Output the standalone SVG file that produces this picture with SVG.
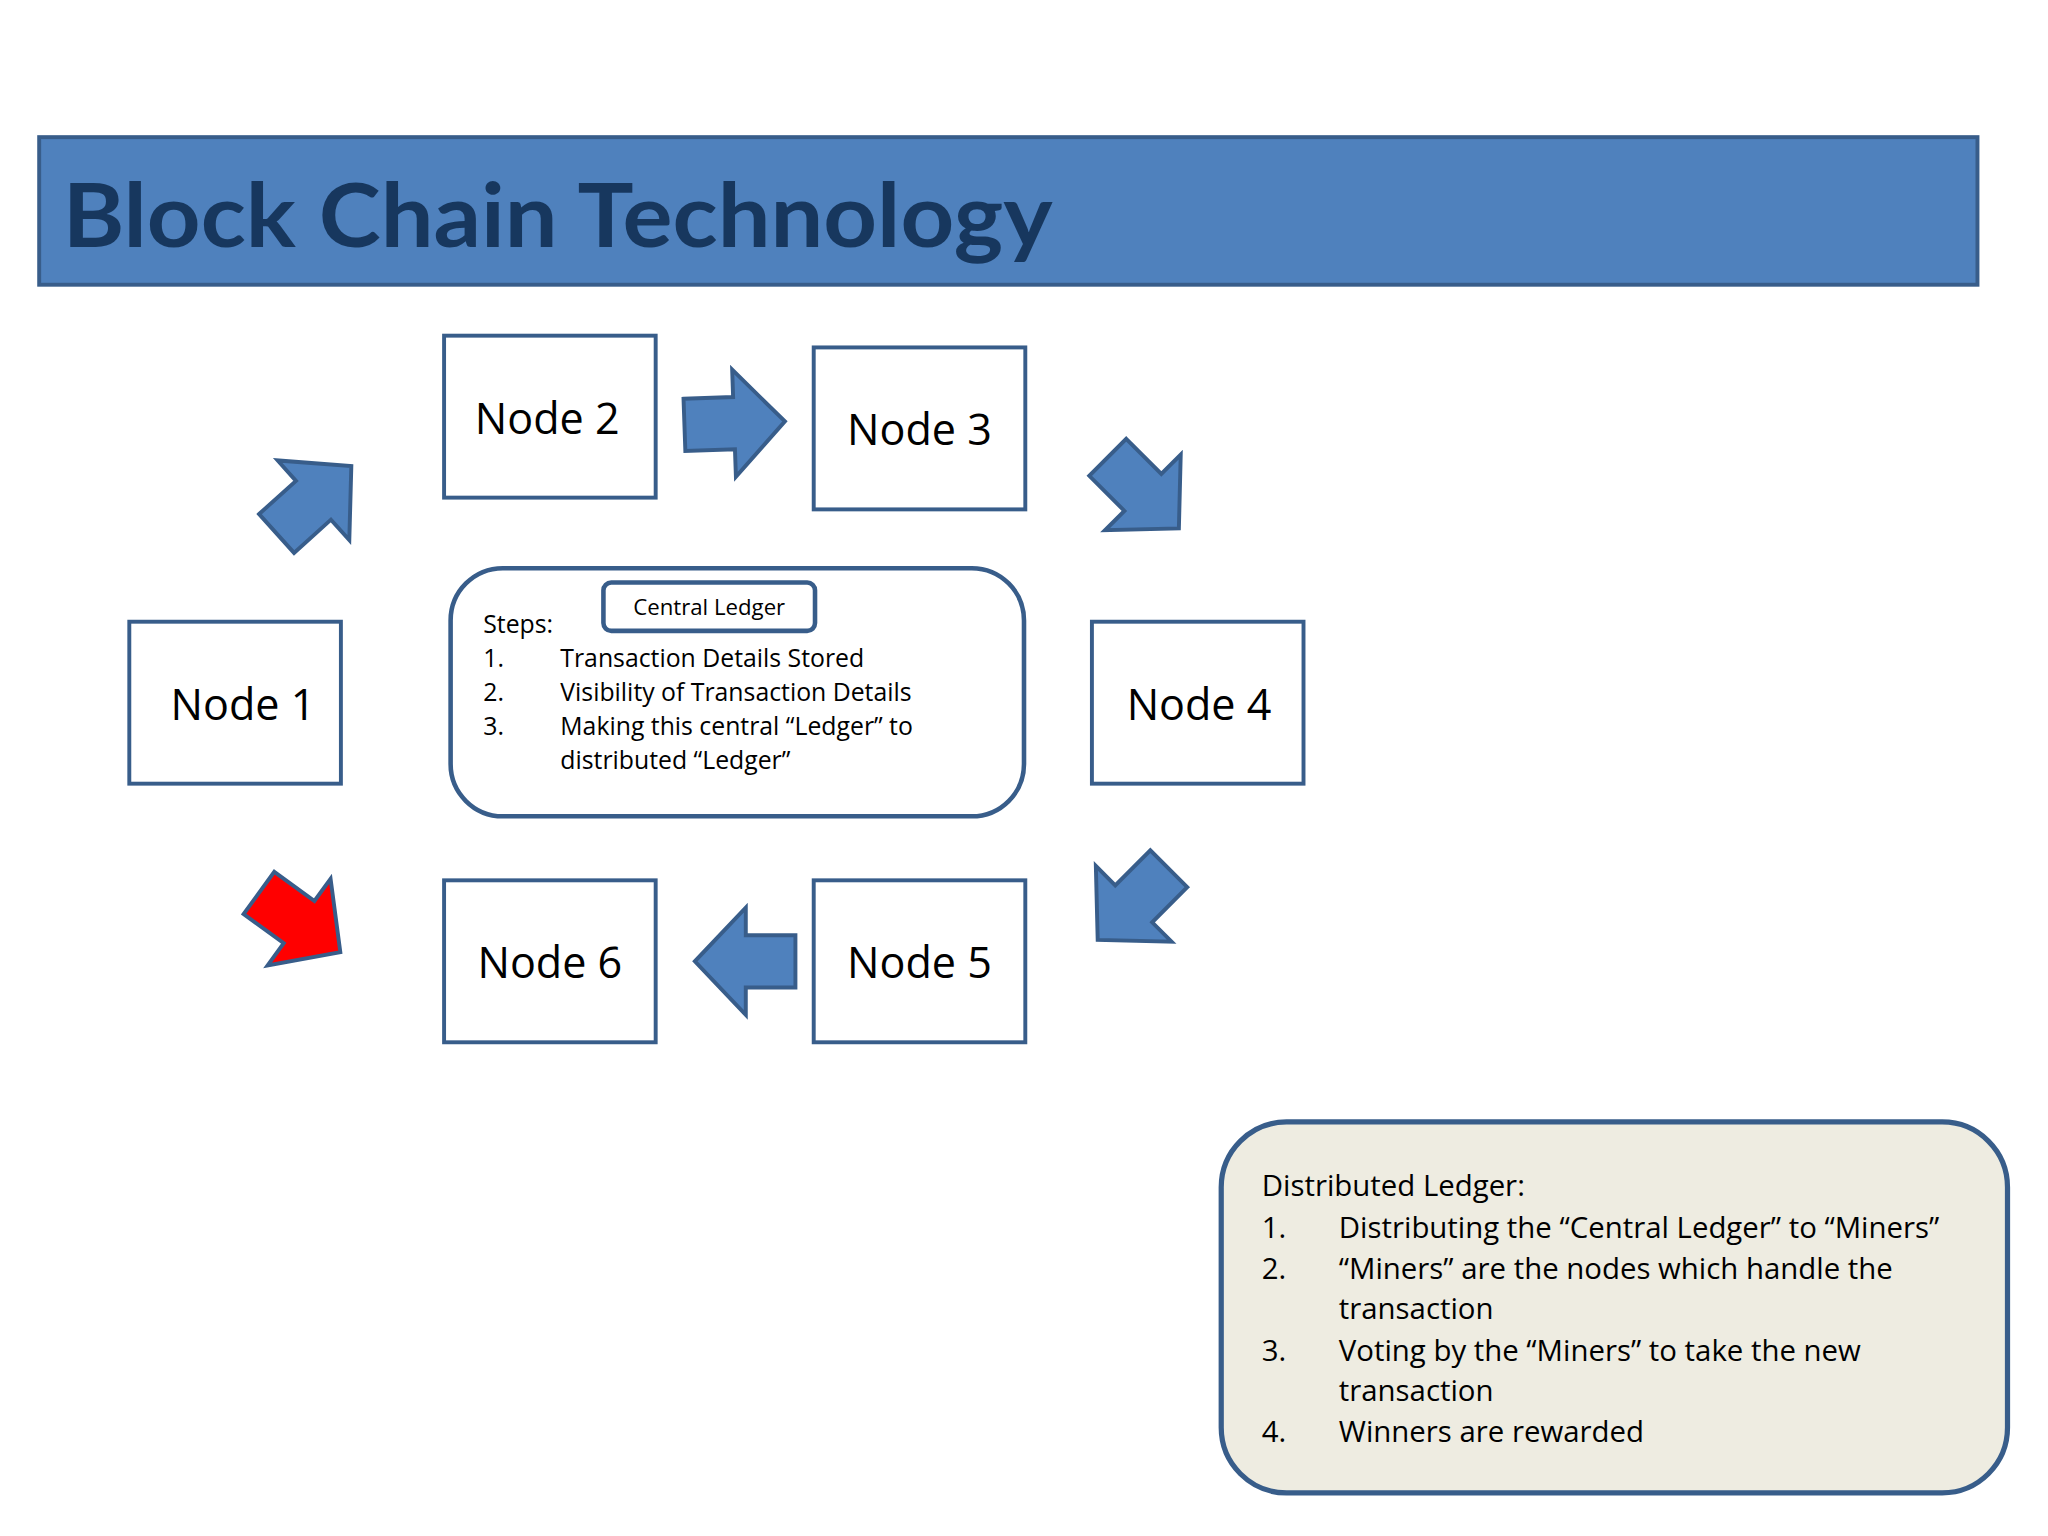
<svg xmlns="http://www.w3.org/2000/svg" width="2048" height="1536" viewBox="0 0 2048 1536">
<style>
.node rect{fill:#fff;stroke:#385D8A;stroke-width:3}
.node text{font-family:"Open Sans","Noto Sans",sans-serif;font-size:33px;fill:#000;text-anchor:middle}
.arr{fill:#4F81BD;stroke:#385D8A;stroke-width:3;stroke-linejoin:miter}
.t{font-family:"Open Sans","Noto Sans",sans-serif;fill:#000}
</style>
<defs>
<polygon id="ba" points="-38,-20 0,-20 0,-41 39,0 0,41 0,20 -38,20"/>
</defs>
<rect width="2048" height="1536" fill="#fff"/>
<g transform="scale(1.30612)">
<g id="title">
<rect x="30" y="105" width="1484" height="113" fill="#4F81BD" stroke="#385D8A" stroke-width="3"/>
<text x="48" y="189" font-family="Lato,'Open Sans',sans-serif" font-weight="bold" font-size="68" fill="#17375E" textLength="758" lengthAdjust="spacingAndGlyphs">Block Chain Technology</text>
</g>
<g id="node1" class="node"><rect x="99" y="476" width="162" height="124"/><text x="186" y="551">Node 1</text></g>
<g id="node2" class="node"><rect x="340" y="257" width="162" height="124"/><text x="419" y="332">Node 2</text></g>
<g id="node3" class="node"><rect x="623" y="266" width="162" height="124"/><text x="704" y="341">Node 3</text></g>
<g id="node4" class="node"><rect x="836" y="476" width="162" height="124"/><text x="918" y="551">Node 4</text></g>
<g id="node5" class="node"><rect x="623" y="674" width="162" height="124"/><text x="704" y="749">Node 5</text></g>
<g id="node6" class="node"><rect x="340" y="674" width="162" height="124"/><text x="421" y="749">Node 6</text></g>
<g id="connectors">
<use href="#ba" class="arr" transform="translate(240,383) rotate(-42)"/>
<use href="#ba" class="arr" transform="translate(562,324) rotate(-2)"/>
<use href="#ba" class="arr" transform="translate(875,377) rotate(45)"/>
<use href="#ba" class="arr" transform="translate(868,692) rotate(135)"/>
<use href="#ba" class="arr" transform="translate(571,736) rotate(180)"/>
<use href="#ba" class="arr" style="fill:#FF0000" transform="translate(229,706) rotate(36)"/>
</g>
<g id="central">
<rect x="345" y="435" width="439" height="190" rx="40" fill="#fff" stroke="#385D8A" stroke-width="3.5"/>
<rect x="462" y="446" width="162" height="37" rx="6" fill="#fff" stroke="#385D8A" stroke-width="3.5"/>
<text class="t" x="543" y="471" font-size="17" text-anchor="middle">Central Ledger</text>
<g class="t" font-size="19">
<text x="370" y="485">Steps:</text>
<text x="370" y="511">1.</text><text x="429" y="511">Transaction Details Stored</text>
<text x="370" y="537">2.</text><text x="429" y="537">Visibility of Transaction Details</text>
<text x="370" y="563">3.</text><text x="429" y="563">Making this central “Ledger” to</text>
<text x="429" y="589">distributed “Ledger”</text>
</g>
</g>
<g id="distributed">
<rect x="935" y="859" width="602" height="284" rx="50" fill="#EEECE1" stroke="#385D8A" stroke-width="4"/>
<g class="t" font-size="22.5">
<text x="966" y="916">Distributed Ledger:</text>
<text x="966" y="948">1.</text><text x="1025" y="948">Distributing the “Central Ledger” to “Miners”</text>
<text x="966" y="979">2.</text><text x="1025" y="979">“Miners” are the nodes which handle the</text>
<text x="1025" y="1010">transaction</text>
<text x="966" y="1042">3.</text><text x="1025" y="1042">Voting by the “Miners” to take the new</text>
<text x="1025" y="1073">transaction</text>
<text x="966" y="1104">4.</text><text x="1025" y="1104">Winners are rewarded</text>
</g>
</g>
</g>
</svg>
